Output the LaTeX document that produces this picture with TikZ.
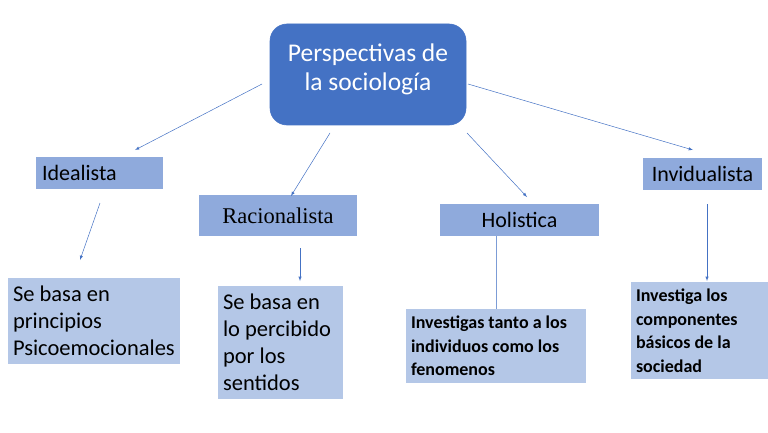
\documentclass[tikz,border=0pt]{standalone}
\usepackage{fontspec}
\setmainfont{Carlito}
\newfontfamily\romanfont{Liberation Serif}
\usepackage{xcolor}
\definecolor{mainblue}{HTML}{4472C4}
\definecolor{midblue}{HTML}{8FAADC}
\definecolor{lightblue}{HTML}{B4C7E7}

\tikzset{
  mainbox/.style={rectangle, rounded corners=17pt, fill=mainblue, draw=mainblue, line width=0.6pt,
    text=white, align=center, minimum width=196pt, minimum height=101pt, text depth=15pt,
    font=\fontsize{25.5}{29.5}\selectfont},
  catbox/.style={rectangle, fill=midblue, inner sep=0pt, minimum height=32pt, font=\fontsize{22}{26}\selectfont},
  descbox/.style={rectangle, fill=lightblue, inner xsep=5pt, inner ysep=0pt, align=flush left,
    font=\fontsize{22.5}{27}\selectfont},
  smalldesc/.style={descbox, font=\fontsize{18}{23.5}\selectfont\bfseries},
  link/.style={mainblue, line width=0.5pt, ->, >=latex},
}

\begin{document}
\begin{tikzpicture}[x=1pt,y=-1pt]

\useasboundingbox (0,0) rectangle (768,433);

\node[mainbox] (persp) at (368,74.5) {Perspectivas de\\la sociología};

\node[catbox, minimum width=127pt, text width=115pt, align=flush left] (ideal) at (99.5,173) {Idealista};
\node[catbox, minimum width=158pt, minimum height=41pt, font=\romanfont\fontsize{22.5}{26}\selectfont] (racio) at (278,215.5) {Racionalista};
\node[catbox, minimum width=159pt] (holis) at (519.5,220) {Holistica};
\node[catbox, minimum width=119pt] (indiv) at (702.5,174) {Invidualista};

\node[descbox, text width=162pt, minimum height=86pt] (basa1) at (94,321) {Se basa en\\principios\\Psicoemocionales};
\node[descbox, text width=115pt, minimum height=113pt] (basa2) at (280.5,342.5) {Se basa en\\lo percibido\\por los\\sentidos};
\node[smalldesc, text width=170pt, minimum height=74pt] (inves1) at (496,346) {Investigas tanto a los\\individuos como los\\fenomenos};
\node[smalldesc, text width=127pt, minimum height=97pt] (inves2) at (699.5,330.5) {Investiga los\\componentes\\básicos de la\\sociedad};

% free ends of the arrows
\coordinate (pa) at (262,84);
\coordinate (ia) at (135,150);
\coordinate (pb) at (330,133);
\coordinate (rb) at (291,196);
\coordinate (pc) at (467,133);
\coordinate (hc) at (527,197);
\coordinate (pd) at (468,84);
\coordinate (nd) at (693,150);
\coordinate (ie) at (100,203);
\coordinate (be) at (80,260);
\coordinate (rf) at (300,248);
\coordinate (bf) at (300,281);
\coordinate (ng) at (707,204);
\coordinate (bg) at (707,281);

\draw [link] (pa) -- (ia);
\draw [link] (pb) -- (rb);
\draw [link] (pc) -- (hc);
\draw [link] (pd) -- (nd);
\draw [link] (ie) -- (be);
\draw [link] (rf) -- (bf);
\draw [mainblue!70, line width=0.5pt] (holis.south -| inves1.north) -- (inves1.north);
\draw [link] (ng) -- (bg);

\end{tikzpicture}
\end{document}
